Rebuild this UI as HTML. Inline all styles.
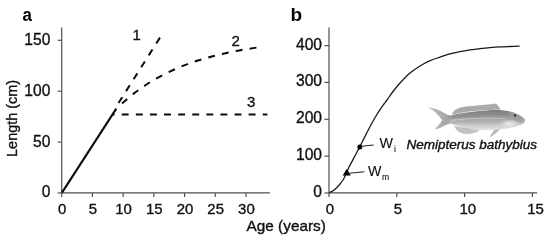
<!DOCTYPE html>
<html><head><meta charset="utf-8"><title>Figure</title>
<style>html,body{margin:0;padding:0;background:#fff;overflow:hidden}svg{display:block}</style></head>
<body>
<svg width="550" height="240" viewBox="0 0 550 240">
<rect width="550" height="240" fill="#fff"/>
<defs><linearGradient id="fb" x1="0" y1="0" x2="0" y2="1"><stop offset="0" stop-color="#7c7c7c"/><stop offset="0.32" stop-color="#969696"/><stop offset="0.58" stop-color="#b4b4b4"/><stop offset="0.82" stop-color="#d2d2d2"/><stop offset="1" stop-color="#e2e2e2"/></linearGradient><linearGradient id="ft" x1="1" y1="0" x2="0" y2="0"><stop offset="0" stop-color="#9e9e9e"/><stop offset="0.6" stop-color="#b4b4b4"/><stop offset="1" stop-color="#cfcfcf"/></linearGradient><radialGradient id="fh"><stop offset="0" stop-color="#f2f2f2" stop-opacity="0.95"/><stop offset="1" stop-color="#e6e6e6" stop-opacity="0"/></radialGradient><filter id="soft" x="-5%" y="-10%" width="110%" height="120%"><feGaussianBlur stdDeviation="0.35"/></filter></defs>
<g stroke="#505050" stroke-width="1.2" fill="none">
<path d="M61.7 27.5V192.8H270"/>
<path d="M57.7 193.00H61.7"/>
<path d="M57.7 142.10H61.7"/>
<path d="M57.7 91.20H61.7"/>
<path d="M57.7 40.30H61.7"/>
<path d="M61.70 193V197"/>
<path d="M92.42 193V197"/>
<path d="M123.13 193V197"/>
<path d="M153.84 193V197"/>
<path d="M184.56 193V197"/>
<path d="M215.27 193V197"/>
<path d="M245.99 193V197"/>
<path d="M329 27.5V192.8H537"/>
<path d="M324.4 193.00H329"/>
<path d="M324.4 156.15H329"/>
<path d="M324.4 119.30H329"/>
<path d="M324.4 82.45H329"/>
<path d="M324.4 45.60H329"/>
<path d="M329.00 193V197"/>
<path d="M396.80 193V197"/>
<path d="M464.60 193V197"/>
<path d="M532.40 193V197"/>
</g>
<g font-family="Liberation Sans, sans-serif" font-size="15" fill="#111" stroke="#111" stroke-width="0.35">
<text transform="translate(50.40 197.40) scale(1.000 1)" font-size="15.6" text-anchor="end">0</text>
<text transform="translate(50.40 146.50) scale(1.000 1)" font-size="15.6" text-anchor="end">50</text>
<text transform="translate(50.40 95.60) scale(1.000 1)" font-size="15.6" text-anchor="end">100</text>
<text transform="translate(50.40 44.70) scale(1.000 1)" font-size="15.6" text-anchor="end">150</text>
<text transform="translate(62.10 213.60) scale(0.980 1)" font-size="15.3" text-anchor="middle">0</text>
<text transform="translate(92.82 213.60) scale(0.980 1)" font-size="15.3" text-anchor="middle">5</text>
<text transform="translate(123.53 213.60) scale(0.980 1)" font-size="15.3" text-anchor="middle">10</text>
<text transform="translate(154.25 213.60) scale(0.980 1)" font-size="15.3" text-anchor="middle">15</text>
<text transform="translate(184.96 213.60) scale(0.980 1)" font-size="15.3" text-anchor="middle">20</text>
<text transform="translate(215.67 213.60) scale(0.980 1)" font-size="15.3" text-anchor="middle">25</text>
<text transform="translate(246.39 213.60) scale(0.980 1)" font-size="15.3" text-anchor="middle">30</text>
<text transform="translate(322.00 196.90) scale(1.000 1)" font-size="15.6" text-anchor="end">0</text>
<text transform="translate(322.00 160.05) scale(1.000 1)" font-size="15.6" text-anchor="end">100</text>
<text transform="translate(322.00 123.20) scale(1.000 1)" font-size="15.6" text-anchor="end">200</text>
<text transform="translate(322.00 86.35) scale(1.000 1)" font-size="15.6" text-anchor="end">300</text>
<text transform="translate(322.00 49.50) scale(1.000 1)" font-size="15.6" text-anchor="end">400</text>
<text transform="translate(329.80 213.60) scale(0.980 1)" font-size="15.3" text-anchor="middle">0</text>
<text transform="translate(398.00 213.60) scale(0.980 1)" font-size="15.3" text-anchor="middle">5</text>
<text transform="translate(467.80 213.60) scale(0.980 1)" font-size="15.3" text-anchor="middle">10</text>
<text transform="translate(535.50 213.60) scale(0.980 1)" font-size="15.3" text-anchor="middle">15</text>
<text x="132.6" y="40.2">1</text>
<text x="231.6" y="46.1">2</text>
<text x="247" y="106.6">3</text>
<text x="246.6" y="230.6" textLength="79.2" lengthAdjust="spacingAndGlyphs">Age (years)</text>
<text transform="translate(16.6 156.9) rotate(-90)" font-size="15.2" textLength="77" lengthAdjust="spacingAndGlyphs">Length (cm)</text>
</g>
<g font-family="Liberation Sans, sans-serif" font-size="19" font-weight="bold" fill="#000">
<text x="22.4" y="20.8" font-size="18" textLength="9.4" lengthAdjust="spacingAndGlyphs">a</text>
<text x="290.6" y="20.8">b</text>
</g>
<g stroke="#0a0a0a" fill="none" stroke-width="2">
<path d="M62 192.6L116.3 108.6" stroke-width="2.1"/>
<path d="M118.5 103L160 37.6" stroke-dasharray="6.9 7.2"/>
<path d="M122.00 103.45 L125.45 100.38 L128.90 97.45 L132.35 94.66 L135.81 92.00 L139.26 89.46 L142.71 87.04 L146.16 84.73 L149.61 82.52 L153.06 80.42 L156.51 78.42 L159.96 76.51 L163.42 74.69 L166.87 72.95 L170.32 71.30 L173.77 69.72 L177.22 68.21 L180.67 66.77 L184.12 65.40 L187.57 64.10 L191.03 62.85 L194.48 61.66 L197.93 60.53 L201.38 59.45 L204.83 58.41 L208.28 57.43 L211.73 56.49 L215.18 55.60 L218.64 54.75 L222.09 53.93 L225.54 53.16 L228.99 52.42 L232.44 51.71 L235.89 51.04 L239.34 50.40 L242.79 49.79 L246.25 49.20 L249.70 48.65 L253.15 48.12 L256.60 47.61" stroke-dasharray="6.9 7.2"/>
<path d="M112.5 114.4H267.4" stroke-dasharray="6.9 7.2" stroke-dashoffset="4.85"/>
</g>
<path d="M329.30 192.70 C329.75 192.48 331.05 191.98 332.00 191.40 C332.95 190.82 334.00 190.05 335.00 189.20 C336.00 188.35 337.17 187.17 338.00 186.30 C338.83 185.43 339.17 185.05 340.00 184.00 C340.83 182.95 342.17 181.28 343.00 180.00 C343.83 178.72 344.33 177.63 345.00 176.30 C345.67 174.97 346.33 173.55 347.00 172.00 C347.67 170.45 348.00 169.07 349.00 167.00 C350.00 164.93 351.67 162.10 353.00 159.60 C354.33 157.10 355.83 154.20 357.00 152.00 C358.17 149.80 358.83 148.67 360.00 146.40 C361.17 144.13 362.67 141.05 364.00 138.40 C365.33 135.75 366.67 133.07 368.00 130.50 C369.33 127.93 370.67 125.42 372.00 123.00 C373.33 120.58 374.67 118.23 376.00 116.00 C377.33 113.77 378.67 111.60 380.00 109.60 C381.33 107.60 382.83 105.60 384.00 104.00 C385.17 102.40 385.50 102.08 387.00 100.00 C388.50 97.92 390.83 94.33 393.00 91.50 C395.17 88.67 397.17 86.08 400.00 83.00 C402.83 79.92 406.67 75.83 410.00 73.00 C413.33 70.17 416.67 68.07 420.00 66.00 C423.33 63.93 426.67 62.08 430.00 60.60 C433.33 59.12 436.67 58.22 440.00 57.10 C443.33 55.98 446.67 54.82 450.00 53.90 C453.33 52.98 456.67 52.27 460.00 51.60 C463.33 50.93 466.67 50.40 470.00 49.90 C473.33 49.40 476.67 48.98 480.00 48.60 C483.33 48.22 486.67 47.88 490.00 47.60 C493.33 47.32 496.67 47.08 500.00 46.90 C503.33 46.72 506.73 46.62 510.00 46.50 C513.27 46.38 518.00 46.25 519.60 46.20" fill="none" stroke="#1a1a1a" stroke-width="1.3"/>
<circle cx="359.8" cy="146.9" r="2.5" fill="#000"/>
<path d="M361 146.3L373.6 145" stroke="#222" stroke-width="1"/>
<path d="M346.7 169L350.9 175.5H342.6Z" fill="#000"/>
<path d="M349.5 173.2L364.4 171.8" stroke="#222" stroke-width="1"/>
<g font-family="Liberation Sans, sans-serif" fill="#111" stroke="#111" stroke-width="0.35">
<g stroke-width="0.12">
<text x="379.4" y="148.4" font-size="14.2">W</text><text x="393.9" y="151.6" font-size="8.6">i</text>
<text x="368" y="176" font-size="14.2">W</text><text x="382" y="180" font-size="8.6">m</text>
</g>
<text x="406.4" y="149" font-size="12.6" font-style="italic" textLength="130.6" lengthAdjust="spacingAndGlyphs">Nemipterus bathybius</text>
</g>
<g id="fish" filter="url(#soft)">
<path d="M427.6 107.2C432.5 107.6 436.5 108.8 440 110.6C443.5 112.6 446.5 114.8 450 115.8L451 123.2C447 124 444 126 441.5 127.2C439 128.4 437 129 434.6 129.2C437.5 126.4 440.5 123.4 442 120.2C439.5 116.2 435 110.8 427.6 107.2Z" fill="url(#ft)"/>
<path d="M452.3 113C454.5 110.4 457 108.6 460 107.6C462 106.9 464 106.5 466 106.4L466.00 106.05L467.50 106.85L468.27 105.83L469.77 106.63L470.54 105.62L472.04 106.42L472.81 105.40L474.31 106.20L475.08 105.19L476.58 105.99L477.35 104.97L478.85 105.77L479.62 104.76L481.12 105.56L481.88 104.54L483.38 105.34L484.15 104.33L485.65 105.13L486.42 104.11L487.92 104.91L488.69 103.90L490.19 104.70L490.96 103.68L492.46 104.48L493.23 103.47L494.73 104.27L495.50 103.25C497.5 105 499.5 107 500.6 109.8C492 109.6 470 110.5 452.3 114.4Z" fill="#aaaaaa"/>
<path d="M454.3 126.2C456 129.5 459 132.4 463 133.2C468 134 474 133 477.8 131.4C479.2 130.2 480.2 128.8 480.5 127.6C472 128.6 462 128.2 454.3 126.2Z" fill="#c2c2c2" stroke="#a8a8a8" stroke-width="0.4"/>
<path d="M494.5 129.6L489.3 137.2C490.5 137 493 135.5 496 133C497.8 131.5 499.5 130 500.4 128.8Z" fill="#b6b6b6"/>
<path d="M447.5 116C452 115 458 113.8 465 112.8C473 111.5 481 110.6 489 110.2C496 109.8 503 110 510 111.6C515.5 112.9 520.5 115.3 524 118.6C525.3 119.8 525.2 120.9 524.6 121.4C524.3 122.6 523 123.7 521.5 124.4C517.5 126.2 511 127.9 505 128.8C498 129.9 490 130.4 480 130.1C470 129.6 460 127 449 123Z" fill="url(#fb)"/>
<ellipse cx="509.5" cy="123.8" rx="11" ry="4.6" fill="url(#fh)"/>
<path d="M451 118.2C468 115.3 490 113.6 508 114.6" stroke="#808080" stroke-width="0.7" fill="none" opacity="0.55"/>
<path d="M451 120.4C468 118.4 490 117.6 506 118.6" stroke="#d6d6d6" stroke-width="0.8" fill="none" opacity="0.8"/>
<path d="M452 122.3C468 121.6 488 121.6 503 122.6" stroke="#9a9a9a" stroke-width="0.6" fill="none" opacity="0.5"/>
<path d="M508 111.2C513 112.3 519 115 523.7 118.7C525 119.8 524.8 120.8 524.3 121.2C522 122.8 518 122.5 514 120C511 117.5 509 114.5 508 111.2Z" fill="#9c9c9c" opacity="0.6"/>
<circle cx="515" cy="115.6" r="1.15" fill="#1c1c1c"/>
</g>
</svg>
</body></html>
